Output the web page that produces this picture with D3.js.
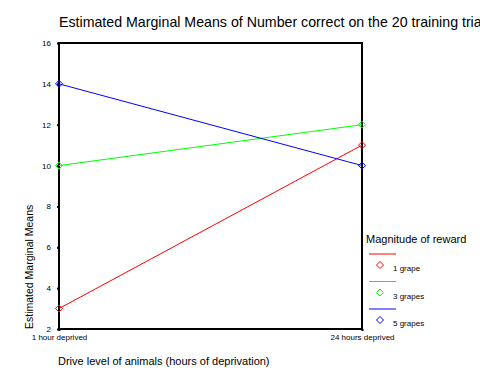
<!DOCTYPE html>
<html>
<head>
<meta charset="utf-8">
<script src="https://cdn.jsdelivr.net/npm/d3@7"></script>
<style>
  body { margin: 0; background: #fff; overflow: hidden; }
  text { font-family: "Liberation Sans", Arial, sans-serif; }
</style>
</head>
<body>
<script>
// estimated marginal means
const driveLevels = ["1 hour deprived", "24 hours deprived"];
const seriesNames = ["1 grape", "3 grapes", "5 grapes"];
const seriesColors = ["#ff0000", "#00ff00", "#0000ff"];
const oneGrape = [3, 11];
const threeGrapes = [10, 12];
const fiveGrapes = [14, 10];
const yTicks = [2, 4, 6, 8, 10, 12, 14, 16];

const series = [oneGrape, threeGrapes, fiveGrapes];

const width = 480, height = 384;
const plotLeft = 59, plotRight = 362, plotTop = 43, plotBottom = 329;

const svg = d3.select("body").append("svg")
  .attr("width", width)
  .attr("height", height);

const x = d3.scalePoint().domain(driveLevels).range([plotLeft, plotRight]);
const y = d3.scaleLinear().domain([2, 16]).range([plotBottom, plotTop]);

// title (runs off the right edge, as in the original)
svg.append("text")
  .attr("x", 59).attr("y", 27)
  .attr("font-size", "14.2px")
  .text("Estimated Marginal Means of Number correct on the 20 training trials");

// frame
svg.append("rect")
  .attr("x", plotLeft).attr("y", plotTop)
  .attr("width", plotRight - plotLeft).attr("height", plotBottom - plotTop)
  .attr("fill", "none").attr("stroke", "#000").attr("stroke-width", 1.2)
  .attr("shape-rendering", "crispEdges");

// y axis
const yAxis = svg.append("g").attr("transform", `translate(${plotLeft},0)`)
  .call(d3.axisLeft(y).tickValues(yTicks).tickSize(0).tickPadding(8));
yAxis.select(".domain").remove();
yAxis.selectAll("text")
  .attr("font-size", "8px")
  .attr("font-family", "Liberation Sans, Arial, sans-serif");
yAxis.selectAll(".tick").append("rect")
  .attr("x", -2).attr("y", -1).attr("width", 2).attr("height", 2)
  .attr("fill", "#000");

// x axis
const xAxis = svg.append("g").attr("transform", `translate(0,${plotBottom})`)
  .call(d3.axisBottom(x).tickSize(0).tickPadding(5));
xAxis.select(".domain").remove();
xAxis.selectAll("text")
  .attr("font-size", "8px")
  .attr("font-family", "Liberation Sans, Arial, sans-serif");
xAxis.selectAll(".tick").append("rect")
  .attr("x", -1).attr("y", 0).attr("width", 2).attr("height", 2)
  .attr("fill", "#000");

// axis titles
svg.append("text")
  .attr("transform", "translate(33,329) rotate(-90)")
  .attr("font-size", "10.5px")
  .text("Estimated Marginal Means");

svg.append("text")
  .attr("x", 58).attr("y", 365)
  .attr("font-size", "11px")
  .text("Drive level of animals (hours of deprivation)");

// lines and markers
const line = d3.line()
  .x((d, i) => x(driveLevels[i]))
  .y(d => y(d));

const diamond = s => `M0,${-s}L${s},0L0,${s}L${-s},0Z`;

series.forEach((vals, k) => {
  svg.append("path")
    .datum(vals)
    .attr("fill", "none")
    .attr("stroke", seriesColors[k])
    .attr("stroke-width", 1)
    .attr("d", line);

  svg.selectAll(null)
    .data(vals)
    .enter().append("path")
    .attr("transform", (d, i) => `translate(${x(driveLevels[i])},${y(d)})`)
    .attr("d", diamond(3.5))
    .attr("fill", "none")
    .attr("stroke", seriesColors[k])
    .attr("stroke-width", 1);
});

// legend
svg.append("text")
  .attr("x", 366).attr("y", 243)
  .attr("font-size", "11px")
  .text("Magnitude of reward");

const legend = svg.selectAll("g.leg")
  .data(seriesNames)
  .enter().append("g")
  .attr("transform", (d, i) => `translate(0,${254 + i * 27.5})`);

legend.append("line")
  .attr("x1", 369).attr("x2", 396)
  .attr("y1", 0).attr("y2", 0)
  .attr("stroke", (d, i) => seriesColors[i]);

legend.append("path")
  .attr("transform", "translate(380,11)")
  .attr("d", diamond(3.5))
  .attr("fill", "none")
  .attr("stroke", (d, i) => seriesColors[i]);

legend.append("text")
  .attr("x", 393).attr("y", 17)
  .attr("font-size", "8px")
  .text(d => d);
</script>
</body>
</html>
